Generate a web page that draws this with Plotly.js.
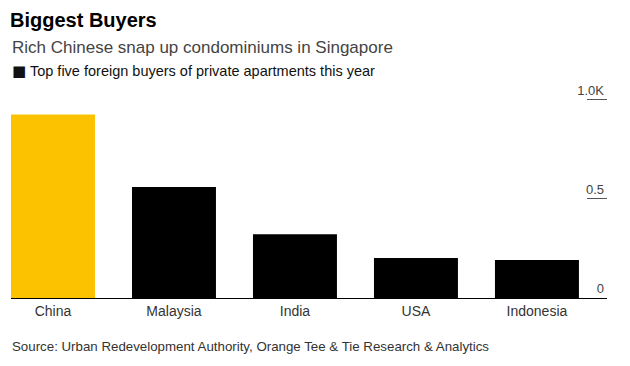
<!DOCTYPE html>
<html>
<head>
<meta charset="utf-8">
<script src="https://cdn.plot.ly/plotly-3.0.1.min.js"></script>
<style>html,body{margin:0;padding:0;background:#fff;}#chart{width:630px;height:366px;}</style>
</head>
<body>
<div id="chart"></div>
<script>
const countries = ["China", "Malaysia", "India", "USA", "Indonesia"];
const buyers = [0.925, 0.56, 0.322, 0.202, 0.192];
const barColors = ["#fcc200", "#000000", "#000000", "#000000", "#000000"];
const tickVals = [0, 0.5, 1.0];
const tickText = ["0", "0.5", "1.0K"];

const FONT = "'Liberation Sans', Arial, Helvetica, sans-serif";
const PH = 228; // plot height in px

const trace = {
  type: "bar",
  x: countries,
  y: buyers,
  marker: { color: barColors, line: { width: 0 } },
  hoverinfo: "skip",
  showlegend: false
};

const layout = {
  width: 630,
  height: 366,
  margin: { l: 11, r: 23, t: 70, b: 68 },
  paper_bgcolor: "#ffffff",
  plot_bgcolor: "#ffffff",
  bargap: 0.306,
  font: { family: FONT, color: "#333333", size: 13 },
  title: {
    text: "<b>Biggest Buyers</b>",
    font: { family: FONT, size: 20, color: "#000000" },
    x: 10 / 630, xanchor: "left", xref: "container",
    y: 1 - 20 / 366, yanchor: "middle", yref: "container"
  },
  xaxis: {
    type: "category",
    range: [-0.347, 4.579],
    showgrid: false,
    showline: true,
    linecolor: "#000000",
    linewidth: 1,
    ticks: "",
    tickfont: { family: FONT, size: 14, color: "#333333" },
    fixedrange: true
  },
  yaxis: {
    range: [0, 1.15],
    side: "right",
    showgrid: false,
    zeroline: false,
    showline: false,
    tickvals: tickVals,
    ticktext: tickText,
    ticks: "inside",
    ticklen: 20,
    tickcolor: "#555555",
    tickwidth: 1,
    ticklabelposition: "inside top",
    tickfont: { family: FONT, size: 13, color: "#444444" },
    fixedrange: true
  },
  annotations: [
    {
      text: "Rich Chinese snap up condominiums in Singapore",
      xref: "paper", yref: "paper", x: -1 / 596, y: 1 + 23 / PH,
      xanchor: "left", yanchor: "middle", showarrow: false,
      font: { family: FONT, size: 17, color: "#444444" }
    },
    {
      text: "<span style='font-family:DejaVu Sans;font-size:15px'>■</span> Top five foreign buyers of private apartments this year",
      xref: "paper", yref: "paper", x: -1 / 596, y: 1 - 1 / PH,
      xanchor: "left", yanchor: "middle", showarrow: false,
      font: { family: FONT, size: 14.5, color: "#111111" }
    },
    {
      text: "Source: Urban Redevelopment Authority, Orange Tee &amp; Tie Research &amp; Analytics",
      xref: "paper", yref: "paper", x: -1 / 596, y: -48 / PH,
      xanchor: "left", yanchor: "middle", showarrow: false,
      font: { family: FONT, size: 13.3, color: "#333333" }
    }
  ]
};

Plotly.newPlot("chart", [trace], layout, { staticPlot: true, displayModeBar: false });
</script>
</body>
</html>
